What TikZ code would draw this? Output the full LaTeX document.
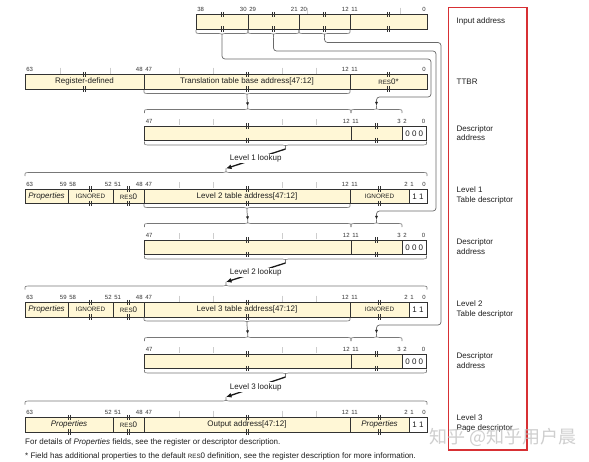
\documentclass[tikz,border=0pt]{standalone}
\usepackage{fontspec}
\setmainfont{Liberation Sans}
\newfontfamily\cjkfont{Noto Sans CJK SC}
\usetikzlibrary{arrows.meta}
\definecolor{fieldY}{RGB}{255,247,214}
\definecolor{edgeC}{RGB}{50,50,50}
\definecolor{braceC}{RGB}{120,120,120}
\definecolor{connC}{RGB}{105,105,105}
\definecolor{redC}{RGB}{215,48,52}
\definecolor{tickC}{RGB}{205,205,205}
\newcounter{lblno}
\newcommand\smres{{\fontsize{6.2}{7}\selectfont RES}}
\newcommand\fld[6]{\node[field,minimum width={(#3-#2)*1pt},#6] (#1) at ({(#2+#3)/2},{#4+7.25}) {#5};}
\newcommand\bitl[3]{\stepcounter{lblno}\node[bit,anchor=base west] (bit\arabic{lblno}) at ({#1+1.2},{#2-3}) {#3};}
\newcommand\bitr[3]{\stepcounter{lblno}\node[bit,anchor=base east] (bit\arabic{lblno}) at ({#1-1.2},{#2-3}) {#3};}
\newcommand\brk[2]{\draw[brkmark] ({#1-0.9},{#2-2.6}) -- ({#1-0.9},{#2+2.6}) ({#1+0.9},{#2-2.6}) -- ({#1+0.9},{#2+2.6});}
\newcommand\tck[2]{\draw[tickC, line width=0.4pt] ({#1},{#2-7}) -- ({#1},{#2-0.8});}
\newcommand\brc[5]{%
 \pgfmathsetmacro\brcM{(#2+#3)/2}\pgfmathsetmacro\brcH{(#4)+(#5)*3.5}\pgfmathsetmacro\brcT{(#4)+(#5)*7.5}%
 \pgfmathsetmacro\brcY{#4}%
 \draw[bracestyle] ({#2},\brcY) .. controls ({#2},\brcH) .. ({#2+3},\brcH) -- ({\brcM-3},\brcH) .. controls (\brcM,\brcH) .. (\brcM,\brcT) .. controls (\brcM,\brcH) .. ({\brcM+3},\brcH) -- ({#3-3},\brcH) .. controls ({#3},\brcH) .. ({#3},\brcY);%
 \coordinate (#1) at (\brcM,\brcT);}
% descriptor-address row
\newcommand\darow[2]{%
 \fld{#1a}{144.5}{351}{#2}{}{}
 \fld{#1b}{351}{402}{#2}{}{}
 \fld{#1c}{402}{426.5}{#2}{0 0 0}{fill=white}
 \bitl{144.5}{#2}{47}\bitr{351}{#2}{12}\bitl{351}{#2}{11}\bitr{402}{#2}{3}\bitl{402}{#2}{2}\bitr{426.5}{#2}{0}
 \tck{179}{#2}\tck{213.5}{#2}\tck{282}{#2}\tck{316.5}{#2}
 \brk{247.5}{#2}\brk{247.5}{#2+14.5}\brk{376.5}{#2}\brk{376.5}{#2+14.5}
 \brc{#1ut}{144.5}{351}{#2-13}{-1}
 \brc{#1vt}{351}{402}{#2-13}{-1}
 \brc{#1lt}{144.5}{426.5}{#2+15.5}{1}}
% table-descriptor row
\newcommand\tdrow[3]{%
 \fld{#1a}{25}{68}{#2}{\textit{Properties}}{}
 \fld{#1b}{68}{113}{#2}{\ign IGNORED}{}
 \fld{#1c}{113}{144}{#2}{\smres0}{}
 \fld{#1d}{144}{350}{#2}{#3}{}
 \fld{#1e}{350}{409}{#2}{\ign IGNORED}{}
 \fld{#1f}{409}{427}{#2}{1 1}{fill=white}
 \bitl{25}{#2}{63}\bitr{68}{#2}{59}\bitl{68}{#2}{58}\bitr{113}{#2}{52}\bitl{113}{#2}{51}\bitr{144}{#2}{48}\bitl{144}{#2}{47}
 \bitr{350}{#2}{12}\bitl{350}{#2}{11}\bitr{409}{#2}{2}\bitl{409}{#2}{1}\bitr{427}{#2}{0}
 \tck{179}{#2}\tck{213.5}{#2}\tck{282}{#2}\tck{316.5}{#2}
 \brk{90.5}{#2}\brk{90.5}{#2+14.5}\brk{128.5}{#2}\brk{128.5}{#2+14.5}
 \brk{247}{#2}\brk{247}{#2+14.5}\brk{379.5}{#2}\brk{379.5}{#2+14.5}
 \brc{#1ut}{25}{427}{#2-13}{-1}
 \brc{#1lt}{144}{350}{#2+15}{1}}
\newcommand\ign{\fontsize{6.3}{7}\selectfont}
\begin{document}
\begin{tikzpicture}[x=1pt,y=-1pt,
  field/.style={draw=edgeC, line width=0.7pt, fill=fieldY, minimum height=14.5pt, inner sep=0pt,
    font=\fontsize{8}{9}\selectfont, text=black!88},
  bit/.style={font=\fontsize{6}{7}\selectfont, inner sep=0pt, text=black!80},
  brkmark/.style={draw=edgeC, line width=0.45pt},
  bracestyle/.style={draw=braceC, line width=0.6pt},
  conn/.style={draw=connC, line width=0.7pt, rounded corners=3pt, -{Latex[length=3.6pt,width=3.2pt,color=black!85]}},
  arr/.style={draw=connC, line width=0.7pt, -{Latex[length=3.6pt,width=3.2pt,color=black!85]}, shorten >=-0.5pt},
  look/.style={draw=black!90, line width=1.3pt, -{Latex[length=5.5pt,width=5pt]}},
  lookl/.style={fill=white, inner sep=1pt, font=\fontsize{8}{9}\selectfont, text=black!88},
  rlab/.style={anchor=west, align=left, inner sep=0pt, font=\fontsize{8}{9.6}\selectfont, text=black!88},
  note/.style={anchor=base west, inner sep=0pt, font=\fontsize{8}{9}\selectfont, text=black!88}]
\useasboundingbox (0,0) rectangle (589,461);
\fill[white] (0,0) rectangle (589,461);

% ---------- Input address
\fld{iaa}{196}{248}{14.5}{}{}
\fld{iab}{248}{299}{14.5}{}{}
\fld{iac}{299}{350}{14.5}{}{}
\fld{iad}{350}{427}{14.5}{}{}
\bitl{196}{14.5}{38}\bitr{248}{14.5}{30}\bitl{248}{14.5}{29}\bitr{299}{14.5}{21}\bitl{299}{14.5}{20}
\bitr{350}{14.5}{12}\bitl{350}{14.5}{11}\bitr{427}{14.5}{0}
\tck{307}{14.5}\tck{400}{14.5}
\brk{222}{14.5}\brk{222}{29}\brk{273.5}{14.5}\brk{273.5}{29}\brk{324.5}{14.5}\brk{324.5}{29}\brk{388.5}{14.5}\brk{388.5}{29}
\brc{iat1}{196}{248}{30}{1}
\brc{iat2}{248}{299}{30}{1}
\brc{iat3}{299}{350}{30}{1}

% ---------- TTBR
\fld{tba}{25}{144}{74.5}{Register-defined}{}
\fld{tbb}{144}{350}{74.5}{Translation table base address[47:12]}{}
\fld{tbc}{350}{427}{74.5}{\smres0*}{}
\bitl{25}{74.5}{63}\bitr{144}{74.5}{48}\bitl{144}{74.5}{47}\bitr{350}{74.5}{12}\bitl{350}{74.5}{11}\bitr{427}{74.5}{0}
\tck{60}{74.5}\tck{110}{74.5}\tck{179}{74.5}\tck{213.5}{74.5}\tck{282}{74.5}\tck{316.5}{74.5}
\brk{84.5}{74.5}\brk{84.5}{89}\brk{247}{74.5}\brk{247}{89}\brk{388.5}{74.5}\brk{388.5}{89}
\brc{tbt}{144}{350}{90}{1}

% ---------- rows
\darow{da}{126}
\tdrow{la}{189}{Level 2 table address[47:12]}
\darow{db}{240}
\tdrow{lb}{302.5}{Level 3 table address[47:12]}
\darow{dc}{354}

% ---------- Level 3 page descriptor
\fld{lca}{25}{113}{417.5}{\textit{Properties}}{}
\fld{lcb}{113}{144}{417.5}{\smres0}{}
\fld{lcc}{144}{350}{417.5}{Output address[47:12]}{}
\fld{lcd}{350}{409}{417.5}{\textit{Properties}}{}
\fld{lce}{409}{427}{417.5}{1 1}{fill=white}
\bitl{25}{417.5}{63}\bitr{113}{417.5}{52}\bitl{113}{417.5}{51}\bitr{144}{417.5}{48}\bitl{144}{417.5}{47}
\bitr{350}{417.5}{12}\bitl{350}{417.5}{11}\bitr{409}{417.5}{2}\bitl{409}{417.5}{1}\bitr{427}{417.5}{0}
\tck{179}{417.5}\tck{213.5}{417.5}\tck{282}{417.5}\tck{316.5}{417.5}
\brk{69}{417.5}\brk{69}{432}\brk{128.5}{417.5}\brk{128.5}{432}\brk{247}{417.5}\brk{247}{432}\brk{379.5}{417.5}\brk{379.5}{432}
\brc{lcut}{25}{427}{404.5}{-1}

% ---------- connectors from input address
\coordinate (ka1) at (431,59);  \coordinate (ka2) at (431,97);
\coordinate (kb1) at (436,51);  \coordinate (kb2) at (436,211);
\coordinate (kc1) at (441,42.5);\coordinate (kc2) at (441,325);
\draw[conn] (iat1) |- (ka1) -- (ka2) -| (davt);
\draw[conn] (iat2) |- (kb1) -- (kb2) -| (dbvt);
\draw[conn] (iat3) |- (kc1) -- (kc2) -| (dcvt);

% ---------- base address arrows
\draw[arr] (tbt) -- (daut);
\draw[arr] (lalt) -- (dbut);
\draw[arr] (lblt) -- (dcut);

% ---------- lookups
\draw[look] (dalt) -- node[lookl] (lk1) {Level 1 lookup} (laut);
\draw[look] (dblt) -- node[lookl] (lk2) {Level 2 lookup} (lbut);
\draw[look] (dclt) -- node[lookl] (lk3) {Level 3 lookup} (lcut);

% ---------- notes
\node[note] (n1) at (25,444) {For details of \textit{Properties} fields, see the register or descriptor description.};
\node[note] (n2) at (25,458) {* Field has additional properties to the default \smres0 definition, see the register description for more information.};

% ---------- right-hand legend
\node[draw=redC, line width=1.6pt, fill=white, minimum width=78.4pt, minimum height=442.7pt, inner sep=0pt] (legend) at (487.5,228.65) {};
\node[rlab] (r1) at (456.5,21.7) {Input address};
\node[rlab] (r2) at (456.5,81.5) {TTBR};
\node[rlab] (r3) at (456.5,133) {Descriptor\\address};
\node[rlab] (r4) at (456.5,195.5) {Level 1\\Table descriptor};
\node[rlab] (r5) at (456.5,246.8) {Descriptor\\address};
\node[rlab] (r6) at (456.5,309.3) {Level 2\\Table descriptor};
\node[rlab] (r7) at (456.5,360.8) {Descriptor\\address};
\node[rlab] (r8) at (456.5,423.7) {Level 3\\Page descriptor};

% ---------- watermark
\node[anchor=west, inner sep=0pt, text=gray!50, opacity=0.75, font=\cjkfont\fontsize{18}{18}\selectfont] (wm) at (429,437) {知乎 @知乎用户晨};
\end{tikzpicture}
\end{document}
